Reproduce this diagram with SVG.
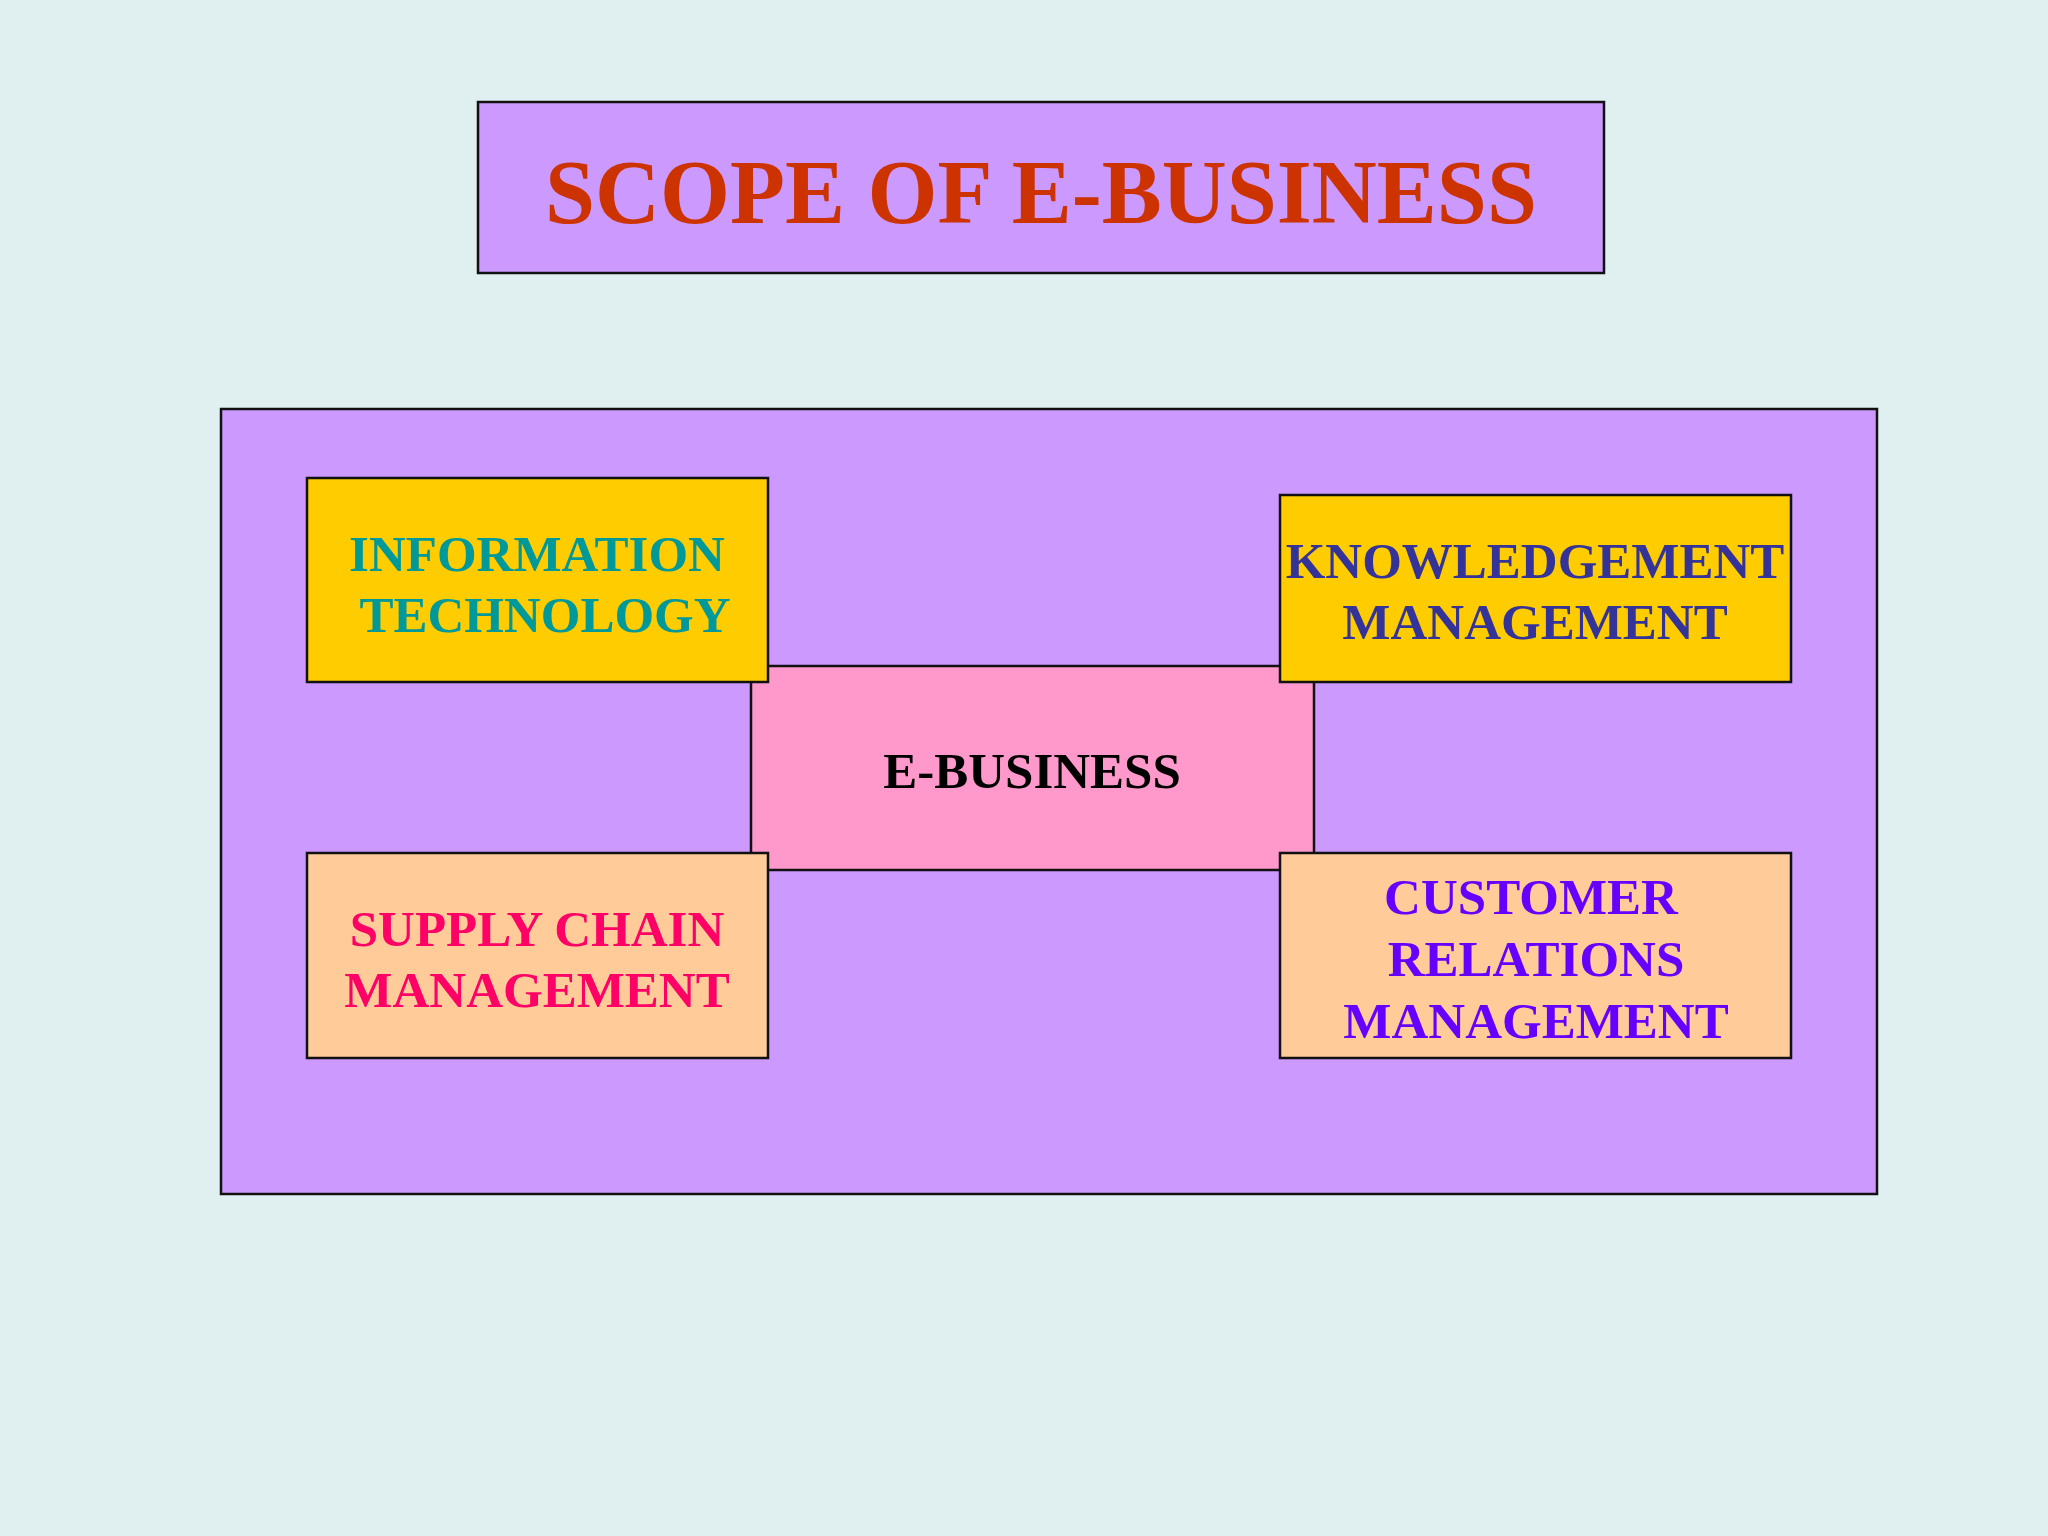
<svg xmlns="http://www.w3.org/2000/svg" width="2048" height="1536" viewBox="0 0 2048 1536">
<style>
.box{stroke:#111;stroke-width:2.5}
.t{font-family:"Liberation Serif","Times New Roman",serif;font-weight:bold;text-anchor:middle;font-size:51px}
</style>
<rect x="0" y="0" width="2048" height="1536" fill="#E0EFF0"/>
<g id="title">
<rect class="box" x="478" y="102" width="1126" height="171" fill="#CC99FF"/>
<text class="t" x="1041" y="223" font-size="90" fill="#CC3300" style="font-size:90px">SCOPE OF E-BUSINESS</text>
</g>
<g id="container">
<rect class="box" x="221" y="409" width="1656" height="785" fill="#CC99FF"/>
</g>
<g id="connectors"></g>
<g id="ebusiness">
<rect class="box" x="751" y="666" width="563" height="204" fill="#FF99CC"/>
<text class="t" x="1032" y="788" fill="#000000">E-BUSINESS</text>
</g>
<g id="it">
<rect class="box" x="307" y="478" width="461" height="204" fill="#FFCC00"/>
<text class="t" x="537" y="571" fill="#009999">INFORMATION</text>
<text class="t" x="545" y="632" fill="#009999">TECHNOLOGY</text>
</g>
<g id="km">
<rect class="box" x="1280" y="495" width="511" height="187" fill="#FFCC00"/>
<text class="t" x="1535" y="578" fill="#333399">KNOWLEDGEMENT</text>
<text class="t" x="1535" y="639" fill="#333399">MANAGEMENT</text>
</g>
<g id="scm">
<rect class="box" x="307" y="853" width="461" height="205" fill="#FFCC99"/>
<text class="t" x="537" y="946" fill="#FF0066">SUPPLY CHAIN</text>
<text class="t" x="537" y="1007" fill="#FF0066">MANAGEMENT</text>
</g>
<g id="crm">
<rect class="box" x="1280" y="853" width="511" height="205" fill="#FFCC99"/>
<text class="t" x="1531" y="914" fill="#6600FF">CUSTOMER</text>
<text class="t" x="1536" y="976" fill="#6600FF">RELATIONS</text>
<text class="t" x="1536" y="1038" fill="#6600FF">MANAGEMENT</text>
</g>
</svg>
